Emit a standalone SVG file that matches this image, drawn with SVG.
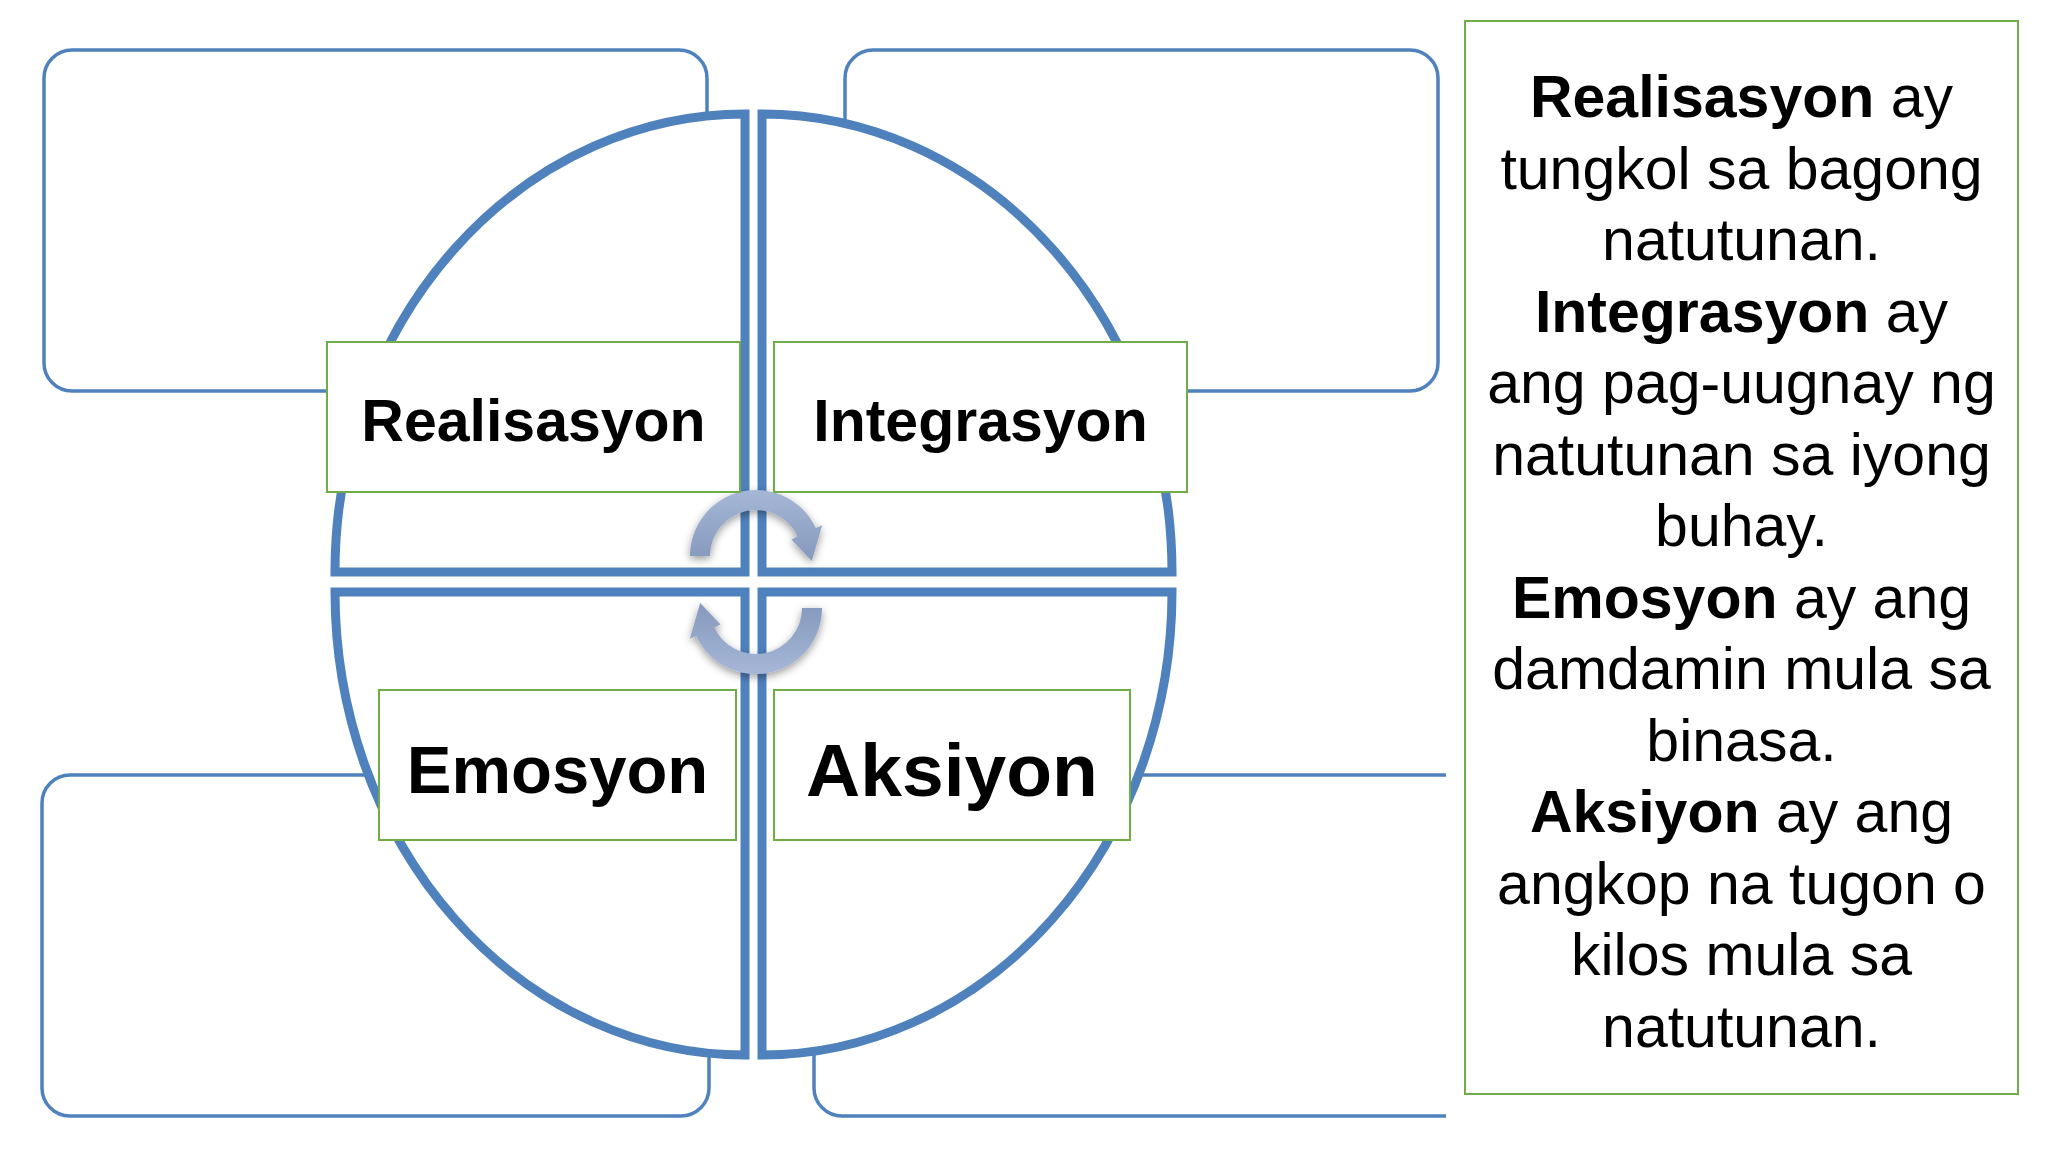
<svg xmlns="http://www.w3.org/2000/svg" width="2048" height="1152" viewBox="0 0 2048 1152">
<defs>
<style>
.obox{fill:#fff;stroke:#4f81bd;stroke-width:3.5}
.oline{fill:none;stroke:#4f81bd;stroke-width:3.5}
.qline{fill:#fff;stroke:#4f81bd;stroke-width:9;stroke-linejoin:miter}
.tbox{fill:#fff;stroke:#70ad47;stroke-width:2}
.lbl{font-family:"Liberation Sans",Arial,sans-serif;font-weight:bold;fill:#000;text-anchor:middle}
.desc{font-family:"Liberation Sans",Arial,sans-serif;font-size:59px;fill:#000;text-anchor:middle}
.b{font-weight:bold}
.arr{fill:url(#arrGrad)}
</style>
<linearGradient id="arrGrad" x1="0" y1="0" x2="0" y2="1">
<stop offset="0" stop-color="#a6b7d6"/>
<stop offset="1" stop-color="#8599bd"/>
</linearGradient>
<filter id="shadow" x="-30%" y="-30%" width="160%" height="160%">
<feDropShadow dx="0" dy="3" stdDeviation="4" flood-color="#000" flood-opacity="0.4"/>
</filter>
<path id="cyc" d="M 690,556 A 66,66 0 0 1 815.8,528.1 L 822.2,525.2 L 811.8,560.9 L 791.4,539.5 L 797.7,536.5 A 46,46 0 0 0 710,556 Z"/>
</defs>
<rect width="2048" height="1152" fill="#fff"/>

<g id="outer-boxes">
<g id="box-top-left"><rect class="obox" x="44" y="50" width="663" height="341" rx="28" ry="28"/></g>
<g id="box-top-right"><rect class="obox" x="845" y="50" width="593" height="341" rx="28" ry="28"/></g>
<g id="box-bottom-left"><rect class="obox" x="42" y="775" width="667" height="341" rx="28" ry="28"/></g>
<g id="box-bottom-right"><path class="oline" d="M 1446,775 H 842 A 28,28 0 0 0 814,803 V 1088 A 28,28 0 0 0 842,1116 H 1446"/></g>
</g>

<g id="quadrants">
<g id="quadrant-realisasyon"><path class="qline" d="M 745,572 L 335,572 A 410,458 0 0 1 745,114 Z"/></g>
<g id="quadrant-integrasyon"><path class="qline" d="M 762,114 A 410,458 0 0 1 1172,572 L 762,572 Z"/></g>
<g id="quadrant-emosyon"><path class="qline" d="M 745,592 L 745,1055 A 410,463 0 0 1 335,592 Z"/></g>
<g id="quadrant-aksiyon"><path class="qline" d="M 1172,592 A 410,463 0 0 1 762,1055 L 762,592 Z"/></g>
</g>

<g id="connectors">
<g filter="url(#shadow)"><use href="#cyc" class="arr"/></g>
<g filter="url(#shadow)"><use href="#cyc" class="arr" transform="rotate(180 756 582)"/></g>
</g>

<g id="label-realisasyon">
<rect class="tbox" x="327" y="342" width="413" height="150"/>
<text class="lbl" x="533.5" y="441" font-size="59">Realisasyon</text>
</g>
<g id="label-integrasyon">
<rect class="tbox" x="774" y="342" width="413" height="150"/>
<text class="lbl" x="980.5" y="441" font-size="59">Integrasyon</text>
</g>
<g id="label-emosyon">
<rect class="tbox" x="379" y="690" width="357" height="150"/>
<text class="lbl" x="557.5" y="793" font-size="67">Emosyon</text>
</g>
<g id="label-aksiyon">
<rect class="tbox" x="774" y="690" width="356" height="150"/>
<text class="lbl" x="952" y="796" font-size="75">Aksiyon</text>
</g>

<g id="description">
<rect class="tbox" x="1465" y="21" width="553" height="1073"/>
<text class="desc" x="1741.5" y="117"><tspan class="b">Realisasyon</tspan> ay</text>
<text class="desc" x="1741.5" y="188.5">tungkol sa bagong</text>
<text class="desc" x="1741.5" y="260">natutunan.</text>
<text class="desc" x="1741.5" y="331.5"><tspan class="b">Integrasyon</tspan> ay</text>
<text class="desc" x="1741.5" y="403">ang pag-uugnay ng</text>
<text class="desc" x="1741.5" y="474.5">natutunan sa iyong</text>
<text class="desc" x="1741.5" y="546">buhay.</text>
<text class="desc" x="1741.5" y="617.5"><tspan class="b">Emosyon</tspan> ay ang</text>
<text class="desc" x="1741.5" y="689">damdamin mula sa</text>
<text class="desc" x="1741.5" y="760.5">binasa.</text>
<text class="desc" x="1741.5" y="832"><tspan class="b">Aksiyon</tspan> ay ang</text>
<text class="desc" x="1741.5" y="903.5">angkop na tugon o</text>
<text class="desc" x="1741.5" y="975">kilos mula sa</text>
<text class="desc" x="1741.5" y="1046.5">natutunan.</text>
</g>
</svg>
